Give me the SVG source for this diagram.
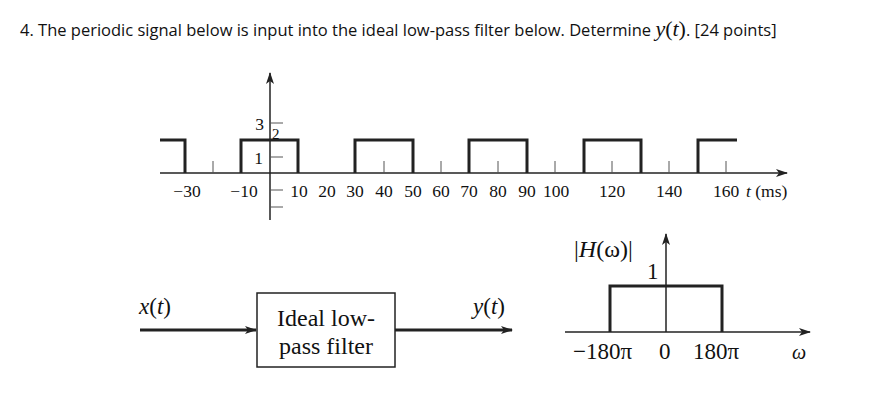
<svg xmlns="http://www.w3.org/2000/svg" width="881" height="406" viewBox="0 0 881 406">
<style>
.s{font-family:"Liberation Serif",serif;font-size:17.5px;fill:#111}
.i{font-style:italic}
.ln{stroke:#222;stroke-width:1.5;fill:none}
.th{stroke:#222;stroke-width:3;fill:none}
.tk{stroke:#555;stroke-width:1}
</style>
<defs><marker id="a" markerWidth="12" markerHeight="8" refX="11" refY="4" orient="auto" markerUnits="userSpaceOnUse"><path d="M0,0 L12,4 L0,8 L3,4z" fill="#222"/></marker></defs>
<rect width="881" height="406" fill="#fff"/>
<text x="20" y="36" style="font-family:'Open Sans','Liberation Sans',sans-serif;font-size:16.5px;fill:#111">4. The periodic signal below is input into the ideal low-pass filter below. Determine <tspan class="s i" style="font-size:22px">y</tspan><tspan style="font-family:'Liberation Serif',serif;font-size:22px">(</tspan><tspan class="s i" style="font-size:22px">t</tspan><tspan style="font-family:'Liberation Serif',serif;font-size:22px">)</tspan>. [24 points]</text>
<g id="signal">
<line class="ln" x1="160" y1="173" x2="787" y2="173" marker-end="url(#a)"/>
<line class="ln" x1="270" y1="220" x2="270" y2="73" marker-end="url(#a)"/>
<g class="tk"><line x1="213" y1="161" x2="213" y2="173"/><line x1="384" y1="161" x2="384" y2="173"/><line x1="441" y1="161" x2="441" y2="173"/><line x1="498" y1="161" x2="498" y2="173"/><line x1="555" y1="161" x2="555" y2="173"/><line x1="612" y1="161" x2="612" y2="173"/><line x1="669" y1="161" x2="669" y2="173"/><line x1="726" y1="161" x2="726" y2="173"/>
<line x1="270" y1="157" x2="283" y2="157"/><line x1="270" y1="123" x2="283" y2="123"/><line x1="270" y1="190" x2="283" y2="190"/><line x1="270" y1="207" x2="283" y2="207"/></g>
<path class="th" d="M160,140 H185 V173 M241,173 V140 H298 V173 M355,173 V140 H413 V173 M469,173 V140 H527 V173 M584,173 V140 H641 V173 M698,173 V140 H737"/>
<text class="s" x="264" y="130" text-anchor="end">3</text>
<text class="s" x="272" y="139" style="font-size:15px">2</text>
<text class="s" x="263" y="164" text-anchor="end">1</text>
<g class="s" text-anchor="middle"><text x="187" y="197">−30</text><text x="244" y="197">−10</text><text x="299" y="197">10</text><text x="327" y="197">20</text><text x="355" y="197">30</text><text x="384" y="197">40</text><text x="413" y="197">50</text><text x="441" y="197">60</text><text x="469" y="197">70</text><text x="498" y="197">80</text><text x="527" y="197">90</text><text x="556" y="197">100</text><text x="612" y="197">120</text><text x="669" y="197">140</text><text x="726" y="197">160</text></g>
<text class="s" x="746" y="197"><tspan class="i">t</tspan> (ms)</text>
</g>
<g id="filter">
<rect x="257" y="293" width="138" height="74" fill="#fff" stroke="#222" stroke-width="1.5"/>
<text class="s" x="326" y="326" text-anchor="middle" style="font-size:24px">Ideal low-</text>
<text class="s" x="326" y="354" text-anchor="middle" style="font-size:24px">pass filter</text>
</g>
<g id="connectors">
<line class="th" x1="140" y1="330" x2="256" y2="330" marker-end="url(#a)"/>
<line class="th" x1="395" y1="330" x2="512" y2="330" marker-end="url(#a)"/>
</g>
<text class="s i" x="139" y="314" style="font-size:23px">x<tspan style="font-style:normal">(</tspan>t<tspan style="font-style:normal">)</tspan></text>
<text class="s i" x="473" y="314" style="font-size:23px">y<tspan style="font-style:normal">(</tspan>t<tspan style="font-style:normal">)</tspan></text>
<g id="response">
<line class="ln" x1="565" y1="332" x2="810" y2="332" marker-end="url(#a)"/>
<line class="ln" x1="666" y1="332" x2="666" y2="234" marker-end="url(#a)"/>
<path class="th" d="M610,332 V286 H722 V332"/>
<text class="s" x="574" y="257" style="font-size:24px">|<tspan class="i">H</tspan>(ω)|</text>
<text class="s" x="647" y="279" style="font-size:23px">1</text>
<text class="s" x="573" y="359" style="font-size:23px">−180π</text>
<text class="s" x="659" y="359" style="font-size:23px">0</text>
<text class="s" x="693" y="359" style="font-size:23px">180π</text>
<text class="s i" x="792" y="359" style="font-size:20px">ω</text>
</g>
</svg>
